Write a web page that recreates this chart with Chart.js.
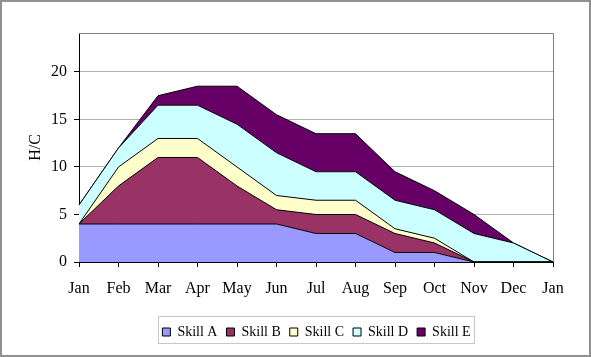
<!DOCTYPE html>
<html><head><meta charset="utf-8">
<script src="https://cdn.jsdelivr.net/npm/chart.js@4/dist/chart.umd.min.js"></script>
<style>html,body{margin:0;padding:0;background:#fff}#wrap{width:591px;height:357px;position:relative}</style>
</head><body><div id="wrap"><canvas id="c" width="591" height="357"></canvas></div>
<script>
const months = ['Jan','Feb','Mar','Apr','May','Jun','Jul','Aug','Sep','Oct','Nov','Dec','Jan'];
const skillA = [4,4,4,4,4,4,3,3,1,1,0,0,0];
const skillB = [0,4,7,7,4,1.5,2,2,2,1,0,0,0];
const skillC = [0,2,2,2,2,1.5,1.5,1.5,0.5,0.5,0,0,0];
const skillD = [2,2,3.5,3.5,4.5,4.5,3,3,3,3,3,2,0];
const skillE = [0,0,1,2,4,4,4,4,3,2,2,0,0];
const seriesNames = ['Skill A','Skill B','Skill C','Skill D','Skill E'];
const seriesColors = ['#9999FF','#993366','#FFFFCC','#CCFFFF','#660066'];
const yTicks = [0,5,10,15,20];

const FONT = "'Liberation Serif','Times New Roman',serif";
const values = [skillA, skillB, skillC, skillD, skillE];
const datasets = values.map((v,i)=>({
  label: seriesNames[i], data: v,
  backgroundColor: seriesColors[i], borderColor:'#000', borderWidth:1,
  fill: i===0 ? 'origin' : '-1', pointRadius:0, tension:0
}));

const framePlugin = {
  id:'frame',
  afterLayout(chart){
    chart.legend.left += 29; chart.legend.right += 29;
  },
  afterDraw(chart){
    const {ctx, chartArea:a} = chart;
    ctx.save();
    ctx.strokeStyle='#808080'; ctx.lineWidth=1;
    ctx.beginPath();
    ctx.moveTo(a.left, a.top+0.5); ctx.lineTo(a.right+0.5, a.top+0.5); ctx.lineTo(a.right+0.5, a.bottom);
    ctx.stroke();
    const hb = chart.legend.legendHitBoxes;
    if (hb && hb.length){
      let l=Infinity,r=-Infinity,t=Infinity,b=-Infinity;
      hb.forEach(h=>{l=Math.min(l,h.left);r=Math.max(r,h.left+h.width);t=Math.min(t,h.top);b=Math.max(b,h.top+h.height);});
      ctx.strokeStyle='#c8c8c8';
      ctx.strokeRect(Math.round(l-4)+0.5, Math.round(t-9)+0.5, Math.round(r-l+8), 27);
    }
    ctx.strokeStyle='#909090'; ctx.lineWidth=2;
    ctx.strokeRect(1,1,chart.width-2,chart.height-2);
    ctx.restore();
  }
};

new Chart(document.getElementById('c'), {
  type:'line',
  data:{labels: months, datasets},
  plugins:[framePlugin],
  options:{
    responsive:false, animation:false,
    layout:{padding:{left:22, top:33, right:38, bottom:8}},
    plugins:{
      tooltip:{enabled:false},
      legend:{position:'bottom', labels:{font:{family:FONT,size:14}, color:'#000', boxWidth:8, boxHeight:8, padding:9}}
    },
    scales:{
      x:{
        offset:false,
        grid:{display:true, drawOnChartArea:false, tickLength:5, tickColor:'#000'},
        border:{color:'#000', width:1},
        ticks:{font:{family:FONT,size:16}, color:'#000', padding:12, maxRotation:0, autoSkip:false},
        afterFit(s){ s.height = 54; }
      },
      y:{
        stacked:true, min:0, max:24.1,
        afterBuildTicks(s){ s.ticks = yTicks.map(v=>({value:v})); },
        grid:{color: c => c.tick && c.tick.value===0 ? '#000' : '#b0b0b0', tickLength:5, tickColor:'#000'},
        border:{color:'#000', width:1},
        ticks:{font:{family:FONT,size:16}, color:'#000', padding:7},
        title:{display:true, text:'H/C', font:{family:FONT,size:16}, color:'#000', padding:{top:4,bottom:0}},
        afterFit(s){ s.width = 57; }
      }
    }
  }
});
</script></body></html>
